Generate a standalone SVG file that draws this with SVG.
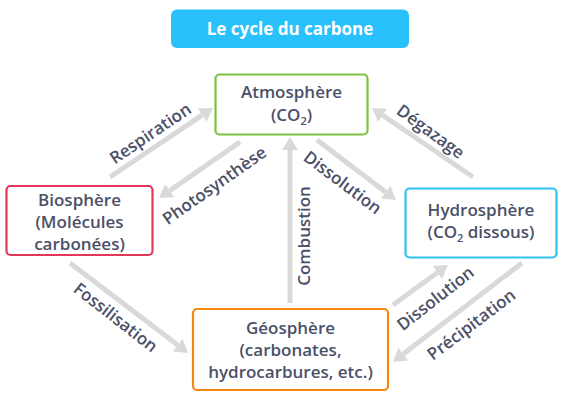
<svg xmlns="http://www.w3.org/2000/svg" width="565" height="400" viewBox="0 0 565 400">
<style>
  .node { fill: #ffffff; stroke-width: 2.2; }
  .ntext { font-family: "Open Sans", "Liberation Sans", sans-serif; font-size: 17px; fill: #4b5068; text-anchor: middle; font-weight: 600; }
  .sub { font-size: 11px; }
  .lbl { font-family: "Open Sans", "Liberation Sans", sans-serif; font-size: 17px; fill: #4b5068; text-anchor: middle; dominant-baseline: central; font-weight: 600; }
  .arrow { stroke: #d9d9d9; stroke-width: 5; fill: none; marker-end: url(#head); }
  .title { font-family: "Open Sans", "Liberation Sans", sans-serif; font-size: 17px; font-weight: 700; fill: #ffffff; text-anchor: middle; }
</style>
<defs>
  <marker id="head" markerUnits="userSpaceOnUse" markerWidth="14" markerHeight="16" refX="0" refY="8" orient="auto">
    <path d="M0,0 L13,8 L0,16 Z" fill="#d9d9d9"/>
  </marker>
</defs>
<rect width="565" height="400" fill="#ffffff"/>
<g id="title">
  <rect x="171" y="9.5" width="238" height="38.5" rx="6" fill="#29c1fc"/>
  <text class="title" x="290" y="34.5">Le cycle du carbone</text>
</g>
<g id="connectors">
  <line class="arrow" x1="110" y1="177" x2="202.2" y2="115.2"/>
  <line class="arrow" x1="240" y1="142" x2="169.7" y2="190.6"/>
  <line class="arrow" x1="317" y1="140" x2="385.6" y2="192.1"/>
  <line class="arrow" x1="473" y1="177" x2="382.7" y2="115.3"/>
  <line class="arrow" x1="290" y1="303" x2="290" y2="150"/>
  <line class="arrow" x1="70" y1="263" x2="177.7" y2="345.1"/>
  <line class="arrow" x1="393" y1="305" x2="437.5" y2="272.6"/>
  <line class="arrow" x1="522" y1="263" x2="403.3" y2="354.1"/>
  <text class="lbl" transform="translate(150,133) rotate(-34)">Respiration</text>
  <text class="lbl" transform="translate(214,185) rotate(-35)">Photosynthèse</text>
  <text class="lbl" transform="translate(343,182) rotate(37)">Dissolution</text>
  <text class="lbl" transform="translate(431,131) rotate(36)">Dégazage</text>
  <text class="lbl" transform="translate(303,236) rotate(-90)">Combustion</text>
  <text class="lbl" transform="translate(116,317) rotate(38)">Fossilisation</text>
  <text class="lbl" transform="translate(435,298) rotate(-38)">Dissolution</text>
  <text class="lbl" transform="translate(471,324) rotate(-37)">Précipitation</text>
</g>
<g id="atmosphere">
  <rect class="node" x="215.5" y="74.5" width="152" height="60" rx="4" stroke="#7dc142"/>
  <text class="ntext" x="291.5" y="98">Atmosphère</text>
  <text class="ntext" x="291.5" y="121">(CO<tspan class="sub" dy="4">2</tspan><tspan dy="-4">)</tspan></text>
</g>
<g id="biosphere">
  <rect class="node" x="6.5" y="186" width="146" height="69" rx="4" stroke="#e3375a"/>
  <text class="ntext" x="79.5" y="206">Biosphère</text>
  <text class="ntext" x="79.5" y="228">(Molécules</text>
  <text class="ntext" x="79.5" y="250">carbonées)</text>
</g>
<g id="hydrosphere">
  <rect class="node" x="405.5" y="188.5" width="151" height="69" rx="4" stroke="#2ec1f5"/>
  <text class="ntext" x="481" y="216">Hydrosphère</text>
  <text class="ntext" x="481" y="238">(CO<tspan class="sub" dy="4">2</tspan><tspan dy="-4"> dissous)</tspan></text>
</g>
<g id="geosphere">
  <rect class="node" x="193" y="309" width="195" height="81" rx="4" stroke="#f5860f"/>
  <text class="ntext" x="290.5" y="334">Géosphère</text>
  <text class="ntext" x="290.5" y="356">(carbonates,</text>
  <text class="ntext" x="290.5" y="378">hydrocarbures, etc.)</text>
</g>
</svg>
